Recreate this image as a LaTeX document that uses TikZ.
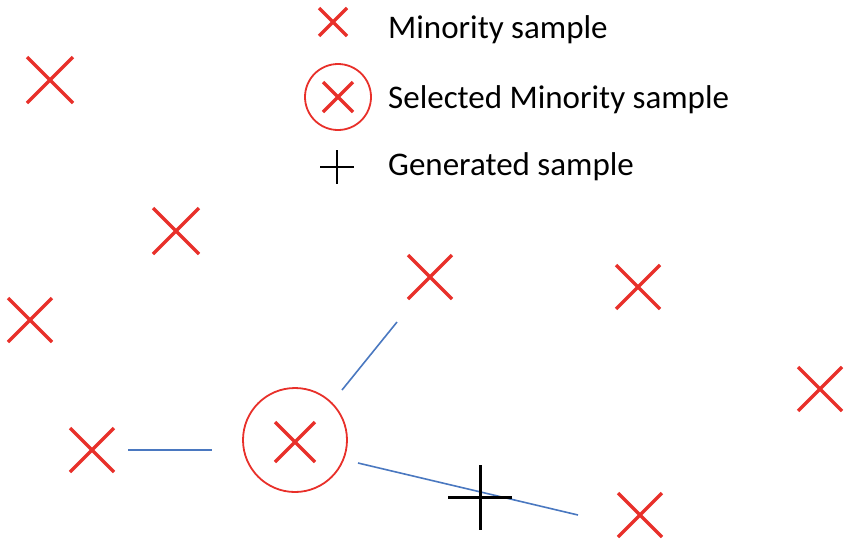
\documentclass[tikz,border=0pt]{standalone}
\usepackage{fontspec}
\setmainfont{Carlito}
\begin{document}
\begin{tikzpicture}[x=1pt,y=-1pt]
\definecolor{xred}{HTML}{E8302A}
\definecolor{lblue}{HTML}{4A78C0}
\tikzset{
 xm/.style={draw=xred, line width=3.4pt},
 lbl/.style={anchor=west, font=\fontsize{33}{38}\selectfont, inner sep=0pt},
 link/.style={draw=lblue, line width=1.6pt}
}
\useasboundingbox (0,0) rectangle (850,550);
\newcommand{\xmark}[3]{\draw[xm] (#1-#3,#2-#3) -- (#1+#3,#2+#3) (#1-#3,#2+#3) -- (#1+#3,#2-#3);}
% legend
\xmark{333}{22}{14}
\draw[xm,line width=1.8pt] (338,97) circle (33);
\xmark{338}{97}{15}
\draw[line width=1.8pt] (320,167) -- (354,167) (337,150) -- (337,184);
\node[lbl] (t1) at (388,30) {Minority sample};
\node[lbl] (t2) at (388,100) {Selected Minority sample};
\node[lbl] (t3) at (388,167) {Generated sample};
% samples
\xmark{50}{80}{23}
\xmark{176}{231}{23}
\xmark{30}{320}{22}
\xmark{430}{277}{22}
\xmark{638}{287}{22}
\xmark{820}{389}{22}
\xmark{92}{450}{22}
\xmark{640}{515}{22}
\draw[xm,line width=1.8pt] (295,440) circle (52);
\xmark{295}{442}{20}
% links
\coordinate (a1) at (128,450); \coordinate (a2) at (212,450);
\coordinate (b1) at (342,390); \coordinate (b2) at (397,322);
\coordinate (c1) at (358,463); \coordinate (c2) at (578,515);
\draw[link] (a1) -- (a2);
\draw[link] (b1) -- (b2);
\draw[link] (c1) -- (c2);
\draw[line width=3pt] (448,497) -- (512,497) (480,465) -- (480,530);
\end{tikzpicture}
\end{document}
